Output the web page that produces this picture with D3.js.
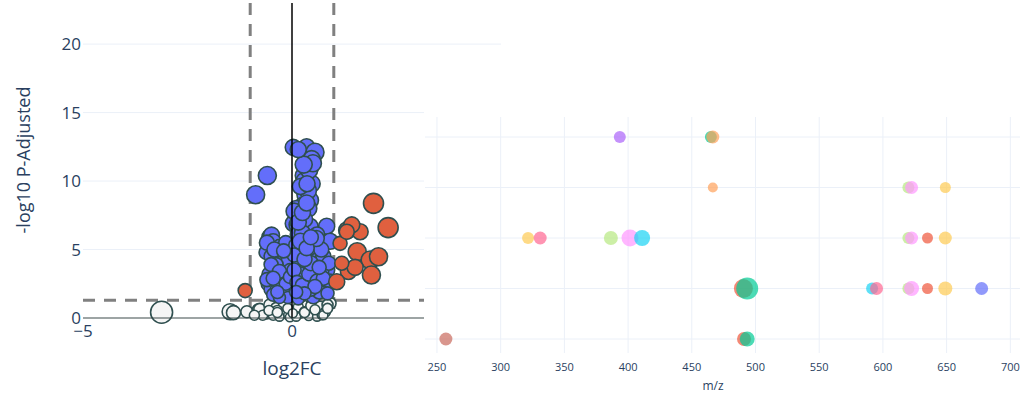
<!DOCTYPE html>
<html>
<head>
<meta charset="utf-8">
<script src="https://cdn.jsdelivr.net/npm/d3@7"></script>
<style>
  html, body { margin: 0; padding: 0; background: #fff; }
  svg { display: block; font-family: "Open Sans", "Noto Sans", sans-serif; }
</style>
</head>
<body>
<svg id="chart" width="1024" height="399"></svg>
<script>
// ---- volcano data (log2 fold change, -log10 adjusted p, marker size) ----
var log2FC = [
  // not significant
  -3.12, -1.48, -1.40, -1.08, -0.81, -0.77, -0.53, -0.37, -0.25, -0.15, -0.08, 0.05, 0.12, 0.19,
  0.35, 0.50, 0.67, 0.91, 0.80, -0.60, -0.45, 0.25, -0.20, 0.00, 0.40, -0.30, 0.60, 0.15, -0.05,
  0.30, -0.35, 0.72, 0.85,
  // significant, small change
  -0.53, -0.49, -0.45, -0.29, -0.35, -0.41, -0.30, -0.45, -0.20, -0.55, -0.35, -0.15, -0.57, -0.40,
  -0.25, -0.10, -0.50, -0.37, -0.21, -0.30, -0.10, -0.45, -0.15, -0.05, -0.60, -0.25, -0.10, -0.05,
  -0.15, -0.05, -0.20, -0.05, -0.62, -0.50, -0.38, -0.10, -0.30, 0.03, -0.87, -0.59,
  0.03, 0.35, 0.55, 0.47, 0.43, 0.27, 0.47, 0.31, 0.43, 0.27, 0.39, 0.11, 0.35, 0.83, 0.43, 0.27,
  0.51, 0.91, 0.83, 0.67, 0.19, 0.35, 0.51, 0.20, 0.30, 0.15, 0.25, 0.10, 0.20, 0.40, 0.60, 0.55,
  0.70, 0.75, 0.10, 0.30, 0.50, 0.80, 0.65, 0.35, 0.15, 0.20, 0.45, 0.90, 0.05, 0.60, 0.70, 0.38,
  0.30, 0.41, 0.50, 0.58, 0.10, 0.05, 0.22, 0.45, 0.62, 0.88, 0.15, 0.33,
  // significant, large change
  1.95, 2.30, 1.32, 1.63, 1.43, 1.56, 1.87, 2.07, 1.90, 1.35, 1.51, 1.07, 1.19, 1.15, 1.31, -1.12,
  // more of the dense middle
  -0.60, -0.42, -0.20, -0.50, -0.30, -0.45, -0.15, -0.35, -0.05, 0.05, 0.12, 0.25, 0.40, 0.60,
  0.75, 0.85, 0.55, 0.30, 0.10, 0.45, 0.30, 0.65, 0.20, 0.35, 0.45, 0.15, 0.25, 0.35, 0.20, 0.36,
  0.28, 0.15,
  -0.70, -0.55, -0.10, 0.10, 0.30, 0.45, 0.55, 0.75, -0.35, 0.02, -0.90, 0.85
];
var negLog10Padj = [
  0.42, 0.46, 0.39, 0.46, 0.58, 0.63, 0.95, 0.70, 0.34, 0.50, 0.20, 0.60, 0.30, 0.35,
  0.70, 0.40, 0.82, 1.07, 0.45, 0.30, 0.20, 1.00, 1.00, 0.90, 0.15, 0.10, 0.10, 0.80, 0.05,
  0.45, 0.55, 0.25, 0.95,
  5.90, 6.05, 5.60, 5.20, 4.80, 4.20, 4.00, 3.60, 3.70, 3.20, 3.10, 3.30, 2.50, 2.60,
  2.70, 2.80, 2.10, 2.04, 1.80, 2.30, 2.20, 1.70, 1.60, 1.90, 2.80, 4.50, 4.20, 5.00,
  5.50, 3.50, 2.10, 2.50, 4.80, 4.50, 3.90, 1.50, 1.50, 6.90, 9.00, 10.40,
  12.46, 12.50, 12.10, 11.60, 11.00, 10.40, 9.80, 9.00, 8.60, 8.25, 8.00, 6.80, 6.80, 6.70, 6.70, 5.70,
  5.20, 5.60, 3.50, 2.50, 4.00, 3.50, 1.55, 7.40, 7.20, 6.10, 6.20, 5.30, 4.80, 4.60, 4.20, 3.90,
  3.40, 4.50, 3.00, 2.80, 2.90, 2.20, 1.90, 2.20, 2.00, 1.60, 2.10, 2.70, 4.60, 6.10, 5.00, 9.30,
  10.00, 10.80, 11.30, 5.80, 8.00, 7.80, 3.20, 3.70, 3.00, 4.00, 1.40, 5.40,
  8.37, 6.60, 6.40, 6.30, 6.80, 4.84, 4.23, 4.47, 3.14, 3.40, 3.70, 2.65, 4.00, 5.45, 6.30, 2.00,
  5.50, 5.00, 4.90, 3.90, 3.40, 2.90, 2.50, 1.90, 3.00, 3.50, 2.60, 2.40, 3.20, 2.70,
  2.90, 1.80, 2.30, 1.80, 1.90, 4.00, 4.30, 3.70, 5.60, 5.10, 5.90, 7.00, 7.70, 8.40, 9.60, 9.80,
  11.20, 12.30,
  0.20, 0.55, 0.70, 0.10, 0.40, 0.90, 0.60, 0.20, 0.40, 0.35, 0.20, 0.70
];
var markerSize = [
  22, 16, 14, 12, 12, 12, 12, 12, 10, 10, 10, 10, 10, 10,
  11, 10, 11, 12, 10, 10, 10, 10, 10, 10, 9, 9, 9, 10, 9,
  10, 10, 10, 11,
  16, 16, 15, 15, 15, 15, 14, 15, 14, 14, 14, 13, 14, 14,
  13, 13, 14, 13, 12, 13, 12, 13, 12, 12, 14, 14, 13, 14,
  14, 13, 12, 12, 14, 14, 14, 12, 12, 16, 18, 18,
  16, 16, 18, 17, 17, 16, 17, 16, 17, 16, 17, 15, 16, 16, 16, 15,
  16, 16, 16, 14, 15, 15, 14, 16, 16, 16, 16, 15, 15, 15, 15, 15,
  15, 15, 14, 14, 14, 14, 14, 14, 13, 13, 14, 14, 14, 15, 15, 17,
  17, 17, 17, 16, 16, 16, 14, 14, 14, 14, 12, 15,
  20, 20, 17, 16, 16, 18, 18, 18, 18, 16, 16, 16, 14, 14, 15, 14,
  15, 15, 14, 14, 14, 14, 13, 13, 13, 14, 14, 14, 14, 14,
  14, 13, 14, 13, 13, 15, 15, 14, 16, 15, 15, 16, 16, 16, 16, 16,
  17, 16,
  10, 10, 10, 9, 10, 10, 10, 9, 10, 9, 10, 10
];
var xTicks = [-5, 0, 5];
var yTicks = [0, 5, 10, 15, 20];
var fcCut = 1;
var pCut = -Math.log10(0.05);

// ---- m/z data (row, m/z, compound colour, size) ----
var mzRow = [0, 0, 0, 1, 1, 1, 1, 2, 2, 2, 2, 2, 2, 2, 2, 2, 3, 3, 3, 3, 3, 3, 3, 3, 3, 4, 4, 4];
var mzValue = [393.5, 465, 466.5, 466.5, 620, 622.5, 649, 321.5, 331, 386.5, 401.5, 411, 620, 622.5, 635, 649,
  490.5, 493.5, 591.5, 595, 620, 622.5, 635, 649, 677.5, 257, 491, 493.5];
var mzCompound = [3, 2, 4, 4, 7, 8, 9, 9, 6, 7, 8, 5, 7, 8, 1, 9, 1, 2, 5, 6, 7, 8, 1, 9, 0, 10, 1, 2];
var mzSize = [12, 12, 13, 10, 12, 13, 11, 12, 13, 14, 17, 16, 12, 13, 11, 13, 19, 22, 12, 13, 12, 15, 11, 14, 13, 13, 14, 15];
var mzTicks = [250, 300, 350, 400, 450, 500, 550, 600, 650, 700];
var compoundColors = ['#636EFA', '#EF553B', '#00CC96', '#AB63FA', '#FFA15A', '#19D3F3', '#FF6692',
  '#B6E880', '#FF97FF', '#FECB52', '#c9695d'];

var svg = d3.select('#chart');
var ink = '#2a3f5f';
var grid = '#EBF0F8';

// ===== left: volcano =====
var x = d3.scaleLinear().domain([-5, 5]).range([83, 501]);
var y = d3.scaleLinear().domain([0, 23]).range([318, 3]);

var left = svg.append('g');

left.selectAll('line.ygrid').data(yTicks.filter(function(d) { return d > 0; })).enter()
  .append('line')
  .attr('x1', x(-5)).attr('x2', x(5))
  .attr('y1', function(d) { return y(d); }).attr('y2', function(d) { return y(d); })
  .attr('stroke', grid).attr('stroke-width', 1);

// threshold lines
left.append('line')
  .attr('x1', x(-5)).attr('x2', x(5)).attr('y1', y(pCut)).attr('y2', y(pCut))
  .attr('stroke', '#808080').attr('stroke-width', 3).attr('stroke-dasharray', '12,9');
[-fcCut, fcCut].forEach(function(v) {
  left.append('line')
    .attr('x1', x(v)).attr('x2', x(v)).attr('y1', y(23)).attr('y2', y(0))
    .attr('stroke', '#808080').attr('stroke-width', 3).attr('stroke-dasharray', '12,9');
});

var pts = log2FC.map(function(fc, i) {
  var p = negLog10Padj[i];
  var grp = p < pCut ? 'ns' : (Math.abs(fc) >= fcCut ? 'big' : 'sig');
  return { fc: fc, p: p, s: markerSize[i], grp: grp };
});
var fillFor = { ns: '#f5f5f5', sig: '#636EFA', big: '#E0603F' };

['ns', 'sig', 'big'].forEach(function(g) {
  left.selectAll('circle.' + g).data(pts.filter(function(d) { return d.grp === g; })).enter()
    .append('circle')
    .attr('class', g)
    .attr('cx', function(d) { return x(d.fc); })
    .attr('cy', function(d) { return y(d.p); })
    .attr('r', function(d) { return d.s / 2; })
    .attr('fill', fillFor[g])
    .attr('stroke', '#2F4F4F').attr('stroke-width', 1.6);
});

// zero lines
left.append('line')
  .attr('x1', x(0)).attr('x2', x(0)).attr('y1', y(23)).attr('y2', y(0))
  .attr('stroke', '#000').attr('stroke-width', 1.5);
left.append('line')
  .attr('x1', x(-5)).attr('x2', x(5)).attr('y1', y(0)).attr('y2', y(0))
  .attr('stroke', '#3c4a4a').attr('stroke-width', 1.2);

left.selectAll('text.ytick').data(yTicks).enter()
  .append('text')
  .attr('x', 81).attr('y', function(d) { return y(d) + 6; })
  .attr('text-anchor', 'end').attr('fill', ink).style('font-size', '17px')
  .text(function(d) { return d; });
left.selectAll('text.xtick').data(xTicks).enter()
  .append('text')
  .attr('x', function(d) { return x(d); }).attr('y', 337)
  .attr('text-anchor', 'middle').attr('fill', ink).style('font-size', '17px')
  .text(function(d) { return d < 0 ? '\u2212' + Math.abs(d) : d; });

left.append('text')
  .attr('x', x(0)).attr('y', 375)
  .attr('text-anchor', 'middle').attr('fill', ink).style('font-size', '19px')
  .text('log2FC');
left.append('text')
  .attr('transform', 'translate(30,160) rotate(-90)')
  .attr('text-anchor', 'middle').attr('fill', ink).style('font-size', '18px')
  .text('-log10 P-Adjusted');

// ===== right: m/z rows =====
var right = svg.append('g');
right.append('rect')
  .attr('x', 424).attr('y', 108).attr('width', 600).attr('height', 291)
  .attr('fill', '#fff');

var mx = d3.scaleLinear().domain([240.6, 707.6]).range([425, 1020]);
var my = d3.scaleLinear().domain([0, 4]).range([137, 339]);

right.selectAll('line.vgrid').data(mzTicks).enter()
  .append('line')
  .attr('x1', function(d) { return mx(d); }).attr('x2', function(d) { return mx(d); })
  .attr('y1', 117).attr('y2', 353)
  .attr('stroke', grid).attr('stroke-width', 1);
right.selectAll('line.hgrid').data(d3.range(5)).enter()
  .append('line')
  .attr('x1', 425).attr('x2', 1020)
  .attr('y1', function(d) { return my(d); }).attr('y2', function(d) { return my(d); })
  .attr('stroke', grid).attr('stroke-width', 1);

right.selectAll('circle').data(mzValue.map(function(v, i) {
    return { mz: v, row: mzRow[i], c: mzCompound[i], s: mzSize[i] };
  })).enter()
  .append('circle')
  .attr('cx', function(d) { return mx(d.mz); })
  .attr('cy', function(d) { return my(d.row); })
  .attr('r', function(d) { return d.s / 2; })
  .attr('fill', function(d) { return compoundColors[d.c]; })
  .attr('fill-opacity', 0.7);

right.selectAll('text.mztick').data(mzTicks).enter()
  .append('text')
  .attr('x', function(d) { return mx(d); }).attr('y', 371)
  .attr('text-anchor', 'middle').attr('fill', ink).style('font-size', '11px')
  .text(function(d) { return d; });
right.append('text')
  .attr('x', 713).attr('y', 390)
  .attr('text-anchor', 'middle').attr('fill', ink).style('font-size', '12px')
  .text('m/z');
</script>
</body>
</html>
